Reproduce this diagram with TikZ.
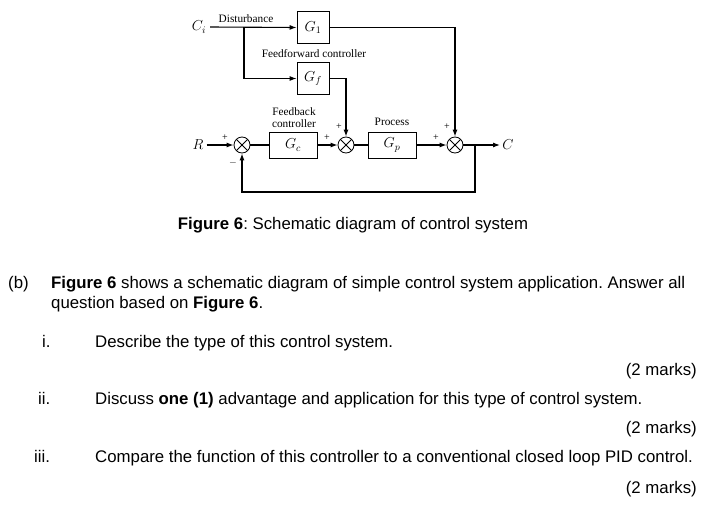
\documentclass[tikz,border=0pt]{standalone}
\usepackage{fontspec}
\setmainfont{Liberation Sans}
\newfontfamily\tms{Liberation Serif}
\usetikzlibrary{arrows.meta}
\begin{document}
\frenchspacing
\begin{tikzpicture}[x=1pt,y=-1pt,
  blk/.style={draw,line width=0.8pt,minimum width=48pt,minimum height=26pt,inner sep=0pt,font=\Large},
  sblk/.style={blk,minimum width=32pt,minimum height=32pt},
  sum/.style={draw,line width=0.8pt,circle,minimum size=16pt,inner sep=0pt,path picture={\draw (path picture bounding box.north west)--(path picture bounding box.south east) (path picture bounding box.north east)--(path picture bounding box.south west);}},
  lab/.style={font=\tms\fontsize{11.3}{12}\selectfont,inner sep=0pt},
  pl/.style={font=\tms\fontsize{10}{10}\selectfont,inner sep=0pt},
  wire/.style={line width=1.1pt},
  arr/.style={wire,-{Latex[length=7pt,width=5pt]}},
  txt/.style={font=\fontsize{16.8}{18}\selectfont,anchor=base west,inner sep=0pt}]
\useasboundingbox (0,0) rectangle (715,506);
\node[sblk] (g1) at (313,27.5) {$G_1$};
\node[sblk] (gf) at (313,78.5) {$G_f$};
\node[blk] (gc) at (293,145) {$G_c$};
\node[blk] (gp) at (392,145) {$G_p$};
\node[sum] (s1) at (242,145) {};
\node[sum] (s2) at (346,145) {};
\node[sum] (s3) at (455,145) {};
\node[lab,font=\Large] (ci) at (199,27) {$C_i$};
\node[lab,font=\Large] (r) at (198,145) {$R$};
\node[lab,font=\Large] (c) at (508,145) {$C$};
\coordinate (b1) at (244,27);
\coordinate (fb) at (475,145);
\coordinate (out) at (500,145);
\node[lab] (dist) at (246,19) {Disturbance};
\node[lab] (ffc) at (314,54) {Feedforward controller};
\node[lab,align=center] (fbc) at (294,118) {Feedback\\controller};
\node[lab] (proc) at (392,122) {Process};
\draw[arr] (ci.east)+(4,0) -- (g1.west);
\draw[arr] (b1) |- (gf.west);
\draw[arr] (g1.east) -| (s3.north);
\draw[arr] (gf.east) -| (s2.north);
\draw[arr] (r.east)+(3,0) -- (s1.west);
\draw[wire] (s1.east) -- (gc.west);
\draw[arr] (gc.east) -- (s2.west);
\draw[wire] (s2.east) -- (gp.west);
\draw[arr] (gp.east) -- (s3.west);
\draw[arr] (s3.east) -- (out);
\draw[arr] (fb) |- (242,192) -- (s1.south);
\foreach \p in {(225,138),(327,138),(436,138),(339,127),(447,127)} \node[pl] at \p {+};
\node[pl] at (233,163) {$-$};
\node[font=\fontsize{16.8}{18}\selectfont,inner sep=0pt] (cap) at (353,225) {\textbf{Figure 6}: Schematic diagram of control system};
\node[txt] (b) at (8,288) {(b)};
\node[txt] (l1) at (51,288) {\textbf{Figure 6} shows a schematic diagram of simple control system application. Answer all};
\node[txt] (l2) at (51,308) {question based on \textbf{Figure 6}.};
\node[txt] (i1) at (42,347) {i.};
\node[txt] (q1) at (95,347) {Describe the type of this control system.};
\node[txt,anchor=base east] (m1) at (697,375) {(2 marks)};
\node[txt] (i2) at (38,404) {ii.};
\node[txt] (q2) at (95,404) {Discuss \textbf{one (1)} advantage and application for this type of control system.};
\node[txt,anchor=base east] (m2) at (697,433) {(2 marks)};
\node[txt] (i3) at (34,462) {iii.};
\node[txt] (q3) at (95,462) {Compare the function of this controller to a conventional closed loop PID control.};
\node[txt,anchor=base east] (m3) at (697,493) {(2 marks)};
\end{tikzpicture}
\end{document}
